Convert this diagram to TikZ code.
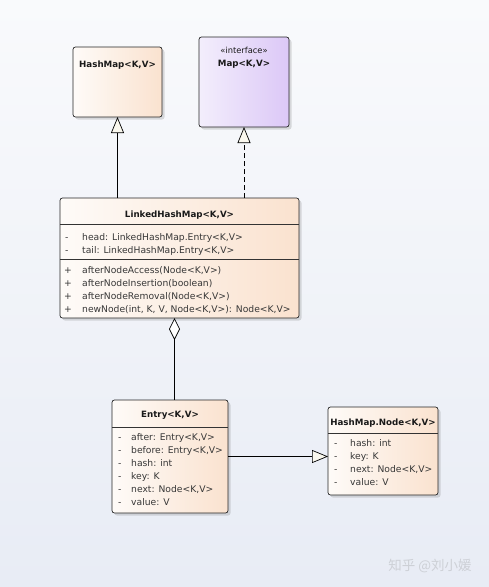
\documentclass[tikz,border=0pt]{standalone}
\usepackage{fontspec}
\setmainfont{DejaVu Sans}
\newfontfamily\cjk{Noto Sans CJK SC}
\usetikzlibrary{shadows,arrows.meta}
\definecolor{bgtop}{RGB}{249,250,252}
\definecolor{bgbot}{RGB}{232,236,245}
\definecolor{peachL}{RGB}{254,251,248}
\definecolor{peachR}{RGB}{250,226,207}
\definecolor{lavL}{RGB}{243,238,252}
\definecolor{lavR}{RGB}{220,200,247}
\definecolor{txt}{RGB}{25,25,25}
\definecolor{mtxt}{RGB}{55,55,55}
\definecolor{tri}{RGB}{250,248,238}
\definecolor{wmark}{RGB}{205,208,214}
\begin{document}
\begin{tikzpicture}[x=1pt,y=-1pt,
 box/.style={draw=black!85, line width=0.7pt, rounded corners=2.5pt, inner sep=0pt, outer sep=0pt, anchor=north west,
   drop shadow={shadow xshift=2.5pt, shadow yshift=-2.5pt, opacity=0.22, fill=black!60}},
 peach/.style={box, left color=peachL, right color=peachR},
 lav/.style={box, left color=lavL, right color=lavR},
 ttl/.style={font=\fontsize{8.7}{11}\selectfont\bfseries, text=txt, inner sep=0pt, anchor=base},
 stereo/.style={font=\fontsize{8.3}{10}\selectfont, text=txt, inner sep=0pt, anchor=base},
 mem/.style={font=\fontsize{9.2}{12}\selectfont, text=mtxt, inner sep=0pt, anchor=base west},
 sep/.style={draw=black!80, line width=0.6pt},
 conn/.style={line width=0.8pt, draw=black},
 gen/.style={conn, -{Triangle[length=16pt,width=13pt,fill=tri,line width=0.7pt]}},
]
% background
\useasboundingbox (0,0) rectangle (489,587);
\fill[top color=bgtop, bottom color=bgbot] (0,0) rectangle (489,587);

% HashMap<K,V>
\node[peach, minimum width=89pt, minimum height=70pt] (hm) at (73,47) {};
\node[ttl] (hmt) at (117.5,67.5) {HashMap<K,V>};

% Map<K,V> interface
\node[lav, minimum width=90pt, minimum height=90pt] (map) at (199,37) {};
\node[stereo] (maps) at (244,53) {«interface»};
\node[ttl] (mapt) at (244,66.5) {Map<K,V>};

% LinkedHashMap<K,V>
\node[peach, minimum width=239pt, minimum height=120pt] (lhm) at (60,198) {};
\node[ttl] (lhmt) at (179.5,217.5) {LinkedHashMap<K,V>};
\draw[sep] (60,224.5) -- (299,224.5);
\draw[sep] (60,259) -- (299,259);
\node[mem] (la1) at (65,240.5) {-};
\node[mem] (la1t) at (82,240.5) {head: LinkedHashMap.Entry<K,V>};
\node[mem] (la2) at (65,253) {-};
\node[mem] (la2t) at (82,253) {tail: LinkedHashMap.Entry<K,V>};
\node[mem] (lo1) at (64,273) {+};
\node[mem] (lo1t) at (82,273) {afterNodeAccess(Node<K,V>)};
\node[mem] (lo2) at (64,286) {+};
\node[mem] (lo2t) at (82,286) {afterNodeInsertion(boolean)};
\node[mem] (lo3) at (64,299) {+};
\node[mem] (lo3t) at (82,299) {afterNodeRemoval(Node<K,V>)};
\node[mem] (lo4) at (64,312) {+};
\node[mem] (lo4t) at (82,312) {newNode(int, K, V, Node<K,V>): Node<K,V>};

% Entry<K,V>
\node[peach, minimum width=116pt, minimum height=113pt] (entry) at (112,400) {};
\node[ttl] (entryt) at (170,417.5) {Entry<K,V>};
\draw[sep] (112,427.5) -- (228,427.5);
\node[mem] (e1) at (118,440.5) {-};
\node[mem] (e1t) at (131,440.5) {after: Entry<K,V>};
\node[mem] (e2) at (118,453.5) {-};
\node[mem] (e2t) at (131,453.5) {before: Entry<K,V>};
\node[mem] (e3) at (118,466.5) {-};
\node[mem] (e3t) at (131,466.5) {hash: int};
\node[mem] (e4) at (118,479.5) {-};
\node[mem] (e4t) at (131,479.5) {key: K};
\node[mem] (e5) at (118,492.5) {-};
\node[mem] (e5t) at (131,492.5) {next: Node<K,V>};
\node[mem] (e6) at (118,505.5) {-};
\node[mem] (e6t) at (131,505.5) {value: V};

% HashMap.Node<K,V>
\node[peach, minimum width=110pt, minimum height=88pt] (hnode) at (328,407) {};
\node[ttl] (hnodet) at (383,425.5) {HashMap.Node<K,V>};
\draw[sep] (328,433) -- (438,433);
\node[mem] (n1) at (334,446.5) {-};
\node[mem] (n1t) at (350,446.5) {hash: int};
\node[mem] (n2) at (334,459.5) {-};
\node[mem] (n2t) at (350,459.5) {key: K};
\node[mem] (n3) at (334,472.5) {-};
\node[mem] (n3t) at (350,472.5) {next: Node<K,V>};
\node[mem] (n4) at (334,485.5) {-};
\node[mem] (n4t) at (350,485.5) {value: V};

% connectors
\coordinate (dx) at (174.5,0);
\coordinate (ey) at (0,456.5);
\draw[gen] (lhm.north -| hm.south) -- (hm.south);
\draw[gen, dash pattern=on 5pt off 3pt] (lhm.north -| map.south) -- (map.south);
\draw[conn, {Diamond[length=22pt,width=11pt,fill=white,line width=0.7pt]}-] (lhm.south -| dx) -- (entry.north -| dx);
\draw[gen] (entry.east |- ey) -- (hnode.west |- ey);

% watermark
\node[font=\cjk\fontsize{13.5}{14}\selectfont, text=wmark, inner sep=0pt] (wm) at (430,566) {知乎 @刘小媛};
\end{tikzpicture}
\end{document}
